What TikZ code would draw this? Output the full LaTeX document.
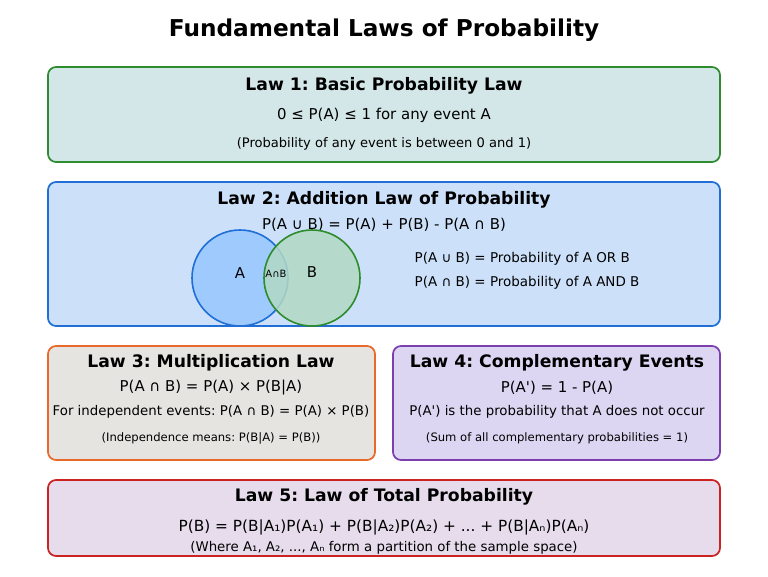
\documentclass[tikz,border=0pt]{standalone}
\usepackage{fontspec}
\setmainfont{DejaVu Sans}
\newfontfamily\plainf{DejaVu Sans}
\newcommand\myapos{{\plainf'}}
\frenchspacing
\begin{document}
\begin{tikzpicture}[x=0.75pt,y=-0.75pt,
  box/.style={rounded corners=6pt,line width=1.3pt},
  head/.style={font=\fontsize{12.9}{14}\selectfont\bfseries},
  body/.style={font=\fontsize{11.2}{13}\selectfont},
  side/.style={font=\fontsize{10.1}{12}\selectfont},
  small/.style={font=\fontsize{9.8}{11}\selectfont},
  tiny/.style={font=\fontsize{8.7}{10}\selectfont}]
\useasboundingbox (0,0) rectangle (768,576);
\definecolor{g1}{HTML}{2E8B2E}\definecolor{f1}{HTML}{D4E7E8}
\definecolor{b2}{HTML}{1F6FD6}\definecolor{f2}{HTML}{CCE1F9}
\definecolor{o3}{HTML}{E8692A}\definecolor{f3}{HTML}{E6E4E1}
\definecolor{p4}{HTML}{7B3FB0}\definecolor{f4}{HTML}{DDD6F3}
\definecolor{r5}{HTML}{CC2222}\definecolor{f5}{HTML}{E6DCEC}
\definecolor{ca}{HTML}{9FCAFD}\definecolor{cb}{HTML}{B2D9C4}
\node (title) at (384,30) {\fontsize{17.4}{20}\selectfont\bfseries Fundamental Laws of Probability};
\draw[box,draw=g1,fill=f1] (48,67) rectangle (720,162);
\draw[box,draw=b2,fill=f2] (48,182) rectangle (720,326);
\draw[box,draw=o3,fill=f3] (48,346) rectangle (375,460);
\draw[box,draw=p4,fill=f4] (393,346) rectangle (720,460);
\draw[box,draw=r5,fill=f5] (48,480) rectangle (720,556);
\node[head] (h1) at (384,86) {Law 1: Basic Probability Law};
\node[body] (t1) at (384,115) {0 ≤ P(A) ≤ 1 for any event A};
\node[small] (s1) at (384,144) {(Probability of any event is between 0 and 1)};
\node[head] (h2) at (384,200) {Law 2: Addition Law of Probability};
\node[body] (t2) at (384,225) {P(A ∪ B) = P(A) + P(B) - P(A ∩ B)};
\draw[fill=ca,draw=b2,line width=1.2pt] (240,278) circle (48);
\draw[fill=cb,draw=g1,line width=1.2pt,fill opacity=0.85] (312,278) circle (48);
\node[body] (la) at (240,273) {A};
\node[font=\fontsize{7.5}{8}\selectfont] (lab) at (276,274) {A∩B};
\node[body] (lb) at (312,272) {B};
\node[side,anchor=west] (u) at (410,259) {P(A ∪ B) = Probability of A OR B};
\node[side,anchor=west] (n) at (410,283) {P(A ∩ B) = Probability of A AND B};
\node[head] (h3) at (211,363) {Law 3: Multiplication Law};
\node[body] (t3) at (211,388) {P(A ∩ B) = P(A) × P(B|A)};
\node[font=\fontsize{10}{11}\selectfont] (i3) at (211,412) {For independent events: P(A ∩ B) = P(A) × P(B)};
\node[tiny] (s3) at (211,438) {(Independence means: P(B|A) = P(B))};
\node[head] (h4) at (557,363) {Law 4: Complementary Events};
\node[body] (t4) at (557,388) {P(A\myapos) = 1 - P(A)};
\node[font=\fontsize{10}{11}\selectfont] (i4) at (557,412) {P(A\myapos) is the probability that A does not occur};
\node[tiny] (s4) at (557,438) {(Sum of all complementary probabilities = 1)};
\node[head] (h5) at (384,497) {Law 5: Law of Total Probability};
\node[font=\fontsize{11.5}{13}\selectfont] (t5) at (384,527) {P(B) = P(B|A₁)P(A₁) + P(B|A₂)P(A₂) + ... + P(B|Aₙ)P(Aₙ)};
\node[font=\fontsize{10}{11}\selectfont] (s5) at (384,548) {(Where A₁, A₂, ..., Aₙ form a partition of the sample space)};
\end{tikzpicture}
\end{document}
